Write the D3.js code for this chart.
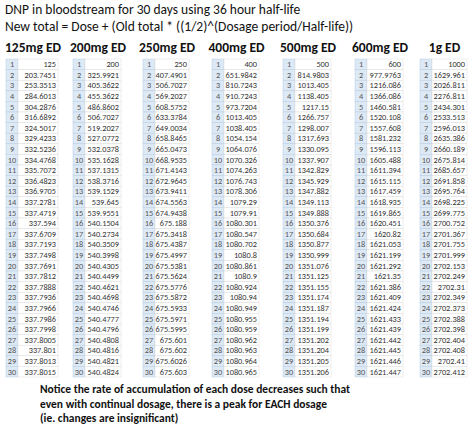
<!DOCTYPE html>
<html><head><meta charset="utf-8">
<script src="https://cdn.jsdelivr.net/npm/d3@7"></script>
<style>body{margin:0;background:#fff}text{font-family:Carlito,Calibri,"Open Sans",sans-serif}</style>
</head><body><div id="chart"></div>
<script>
// dose columns, values
var headers = ["125mg ED", "200mg ED", "250mg ED", "400mg ED", "500mg ED", "600mg ED", "1g ED"];
var days = d3.range(1, 31);
var mg125 = ["125","203.7451","253.3513","284.6013","304.2876","316.6892","324.5017","329.4233","332.5236","334.4768","335.7072","336.4823","336.9705","337.2781","337.4719","337.594","337.6709","337.7193","337.7498","337.7691","337.7812","337.7888","337.7936","337.7966","337.7986","337.7998","337.8005","337.801","337.8013","337.8015"];
var mg200 = ["200","325.9921","405.3622","455.3622","486.8602","506.7027","519.2027","527.0772","532.0378","535.1628","537.1315","538.3716","539.1529","539.645","539.9551","540.1504","540.2734","540.3509","540.3998","540.4305","540.4499","540.4621","540.4698","540.4746","540.4777","540.4796","540.4808","540.4816","540.4821","540.4824"];
var mg250 = ["250","407.4901","506.7027","569.2027","608.5752","633.3784","649.0034","658.8465","665.0473","668.9535","671.4143","672.9645","673.9411","674.5563","674.9438","675.188","675.3418","675.4387","675.4997","675.5381","675.5624","675.5776","675.5872","675.5933","675.5971","675.5995","675.601","675.602","675.6026","675.603"];
var mg400 = ["400","651.9842","810.7243","910.7243","973.7204","1013.405","1038.405","1054.154","1064.076","1070.326","1074.263","1076.743","1078.306","1079.29","1079.91","1080.301","1080.547","1080.702","1080.8","1080.861","1080.9","1080.924","1080.94","1080.949","1080.955","1080.959","1080.962","1080.963","1080.964","1080.965"];
var mg500 = ["500","814.9803","1013.405","1138.405","1217.15","1266.757","1298.007","1317.693","1330.095","1337.907","1342.829","1345.929","1347.882","1349.113","1349.888","1350.376","1350.684","1350.877","1350.999","1351.076","1351.125","1351.155","1351.174","1351.187","1351.194","1351.199","1351.202","1351.204","1351.205","1351.206"];
var mg600 = ["600","977.9763","1216.086","1366.086","1460.581","1520.108","1557.608","1581.232","1596.113","1605.488","1611.394","1615.115","1617.459","1618.935","1619.865","1620.451","1620.82","1621.053","1621.199","1621.292","1621.35","1621.386","1621.409","1621.424","1621.433","1621.439","1621.442","1621.445","1621.446","1621.447"];
var mg1000 = ["1000","1629.961","2026.811","2276.811","2434.301","2533.513","2596.013","2635.386","2660.189","2675.814","2685.657","2691.858","2695.764","2698.225","2699.775","2700.752","2701.367","2701.755","2701.999","2702.153","2702.249","2702.31","2702.349","2702.373","2702.388","2702.398","2702.404","2702.408","2702.41","2702.412"];
var columns = [mg125, mg200, mg250, mg400, mg500, mg600, mg1000];
var colLeft = [6, 73, 143, 212, 283, 355, 420];
var colWidth = [52, 48, 46, 47, 48, 48, 47];

var svg = d3.select("#chart").append("svg").attr("width", 474).attr("height", 427);

svg.append("text").attr("x", 5).attr("y", 14).attr("font-size", 13.5).attr("fill", "#111")
	.text("DNP in bloodstream for 30 days using 36 hour half-life");
svg.append("text").attr("x", 5).attr("y", 31).attr("font-size", 13.5).attr("fill", "#111")
	.text("New total = Dose + (Old total * ((1/2)^(Dosage period/Half-life))");

var y = d3.scaleBand().domain(days).range([59, 377]).padding(0);

columns.forEach(function(vals, c) {
	var g = svg.append("g").attr("transform", "translate(" + colLeft[c] + ",0)");
	var w = colWidth[c];
	g.append("text").attr("x", w / 2 + 1).attr("y", 52).attr("text-anchor", "middle")
		.attr("font-size", 13.5).attr("font-weight", "bold").attr("fill", "#111").text(headers[c]);
	var rows = g.selectAll("g.row").data(days).enter().append("g").attr("class", "row")
		.attr("transform", function(d) { return "translate(0," + y(d) + ")"; });
	rows.append("rect").attr("width", 12).attr("height", y.bandwidth())
		.attr("fill", "#dde9f5").attr("stroke", "#b8cde3").attr("stroke-width", 0.5);
	rows.append("rect").attr("x", 12).attr("width", w - 12).attr("height", y.bandwidth())
		.attr("fill", "#fff").attr("stroke", "#dcdcdc").attr("stroke-width", 0.5);
	rows.append("text").attr("x", 6).attr("y", y.bandwidth() - 2.3).attr("text-anchor", "middle")
		.attr("font-size", 8.3).attr("fill", "#555").text(function(d) { return d; });
	rows.append("text").attr("x", w - 2).attr("y", y.bandwidth() - 2.3).attr("text-anchor", "end")
		.attr("font-size", 8.3).attr("fill", "#333").text(function(d) { return vals[d - 1]; });
});

var notes = ["Notice the rate of accumulation of each dose decreases such that",
	"even with continual dosage, there is a peak for EACH dosage",
	"(ie. changes are insignificant)"];
svg.selectAll("text.note").data(notes).enter().append("text").attr("class", "note")
	.attr("x", 40).attr("y", function(d, i) { return 393 + i * 14.5; })
	.attr("font-size", 11.5).attr("font-weight", "bold").attr("fill", "#111").text(function(d) { return d; });
</script></body></html>
